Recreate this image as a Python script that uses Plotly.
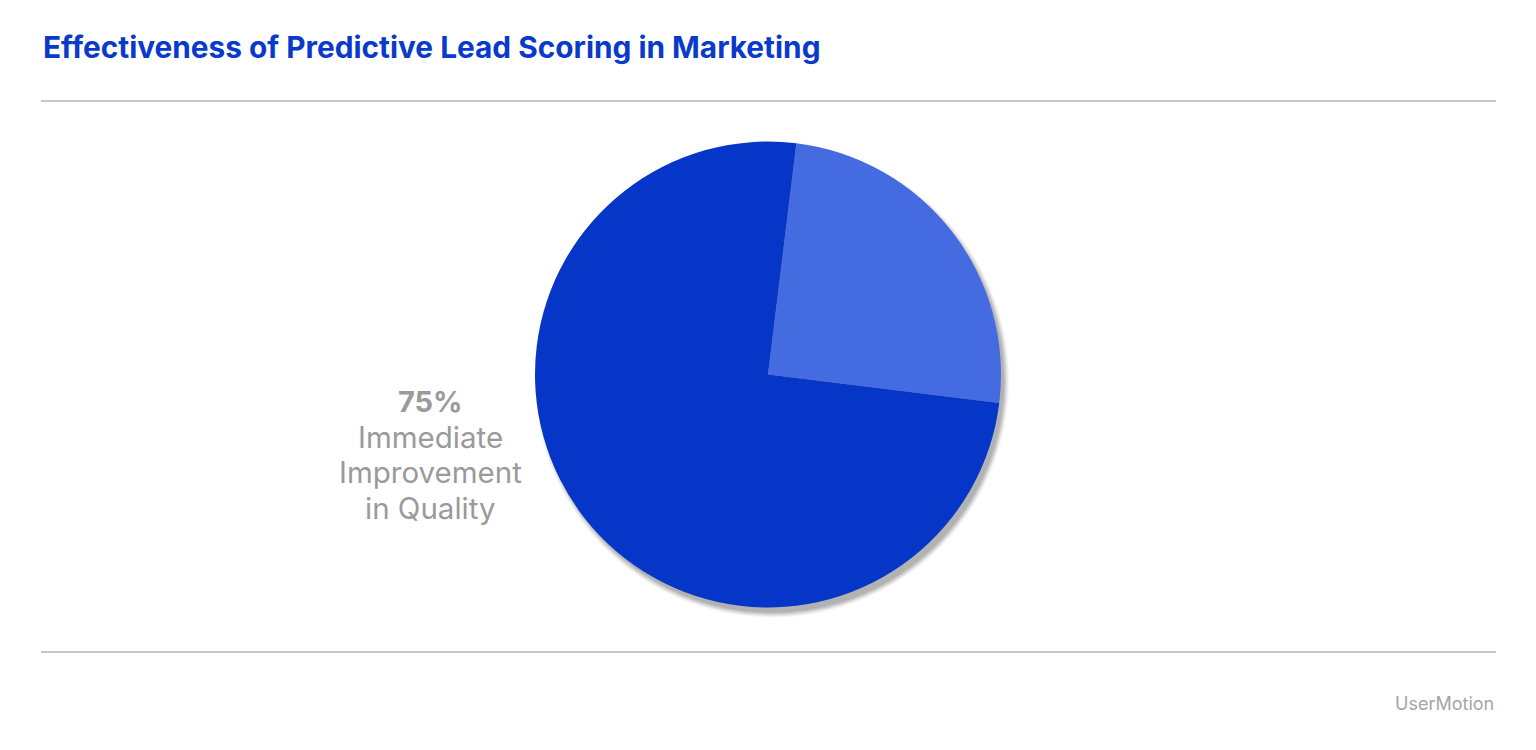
import plotly.graph_objects as go

# data
labels = ["Immediate Improvement in Quality", "Other"]
values = [75, 25]
colors = ["#0636c8", "#456be0"]
title = "Effectiveness of Predictive Lead Scoring in Marketing"
label_lines = ["Immediate", "Improvement", "in Quality"]
source = "UserMotion"

W, H = 1536, 750
PAD = 8  # page body margin
cx, cy, r = 768, 374.5, 233  # pie centre / radius in px


def px(x):
    return (x - PAD) / W


def py(y):
    return 1 - (y - PAD) / H


fig = go.Figure()

# light slice first so it starts near 12 o'clock, going clockwise
fig.add_trace(go.Pie(
    labels=labels[::-1],
    values=values[::-1],
    marker=dict(colors=colors[::-1], line=dict(width=0)),
    sort=False,
    direction="clockwise",
    rotation=7,
    textinfo="none",
    hoverinfo="label+percent",
    showlegend=False,
    domain=dict(x=[px(cx - r), px(cx + r)], y=[py(cy + r), py(cy - r)]),
))

shapes = []
# soft drop shadow under the pie (stacked translucent discs)
for grow, op in [(4, 0.08), (3, 0.10), (2, 0.14), (1, 0.18), (0, 0.22), (-1, 0.25)]:
    shapes.append(dict(
        type="circle", layer="below", xref="paper", yref="paper",
        xsizemode="pixel", ysizemode="pixel",
        xanchor=px(cx + 4), yanchor=py(cy + 6),
        x0=-r - grow, x1=r + grow, y0=-r - grow, y1=r + grow,
        fillcolor=f"rgba(140,140,140,{op})", line=dict(width=0),
    ))
# rules above and below the chart
for yy in [101, 652]:
    shapes.append(dict(
        type="line", xref="paper", yref="paper",
        x0=px(41), x1=px(1496), y0=py(yy), y1=py(yy),
        line=dict(color="#b5b5b5", width=1.5),
    ))

annotations = [
    dict(text=f"<b>{title}</b>", x=px(41), y=py(47), xref="paper", yref="paper",
         xanchor="left", yanchor="middle", showarrow=False,
         font=dict(family="Inter", size=29.8, color="#0a3acb")),
    dict(text=f"<b>{values[0]}%</b>", x=px(430), y=py(401), xref="paper", yref="paper",
         xanchor="center", yanchor="middle", showarrow=False,
         font=dict(family="Inter", size=29, color="#9a9a9a")),
    dict(text=source, x=px(1496), y=py(703), xref="paper", yref="paper",
         xanchor="right", yanchor="middle", showarrow=False,
         font=dict(family="Inter", size=18, color="#a5a5a5")),
]
for i, line in enumerate(label_lines):
    annotations.append(dict(
        text=line, x=px(430), y=py(437 + 35.5 * i), xref="paper", yref="paper",
        xanchor="center", yanchor="middle", showarrow=False,
        font=dict(family="Inter", size=29.5, color="#9a9a9a")))

fig.update_layout(
    width=W, height=H,
    margin=dict(l=0, r=0, t=0, b=0),
    paper_bgcolor="white", plot_bgcolor="white",
    shapes=shapes, annotations=annotations,
)

fig.write_html("out.html")
